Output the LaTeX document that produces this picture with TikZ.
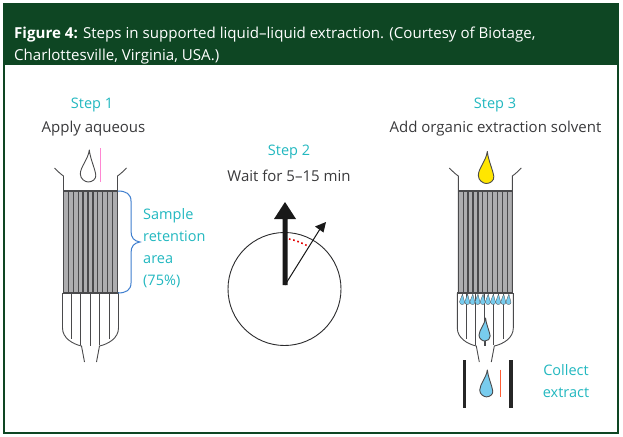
\documentclass[tikz,border=0pt]{standalone}
\usepackage{fontspec}
\setmainfont{Open Sans}
\definecolor{hdr}{HTML}{0E4623}
\definecolor{teal2}{HTML}{22B8C0}
\definecolor{txt}{HTML}{3A3A3C}
\definecolor{gr}{HTML}{ADADAF}
\definecolor{ln}{HTML}{4A4A4C}
\definecolor{dropb}{HTML}{78CCEE}
\definecolor{bracec}{HTML}{3F7FCF}
\definecolor{dropy}{HTML}{FFE600}
\tikzset{
 steplab/.style={text=teal2,font=\fontsize{14.5}{17}\selectfont,inner sep=0pt},
 blk/.style={text=txt,font=\fontsize{15}{17}\selectfont,inner sep=0pt},
 titlelab/.style={anchor=base west,text=white,inner sep=0pt,font=\fontsize{15.1}{18}\selectfont},
 wall/.style={draw=ln,line width=0.9pt},
 fin/.style={draw=ln,line width=0.9pt},
 drop/.style={draw=ln,line width=0.9pt,line join=round},
}
% tip x, tip y, scale, fill, line width
\newcommand{\dropshape}[5]{%
 \begin{scope}[shift={(#1,#2)},scale=#3]
 \path[drop,line width=#5,fill=#4] (0,0) .. controls (-1,9) and (-9,17) .. (-9,24)
   .. controls (-9,29) and (-4,32) .. (-1,32)
   .. controls (3,32) and (7,29) .. (6.5,25)
   .. controls (5.5,18) and (1,9) .. (0,0) -- cycle;
 \end{scope}}
\newcommand{\cartridge}[1]{% x left
 \begin{scope}[shift={(#1,0)}]
 \fill[gr] (0,191) rectangle (54,293);
 \foreach \i in {1,...,10} \draw[ln,line width=1.3pt] (\i*4.9,191) -- (\i*4.9,293);
 \draw[wall] (-9,168) .. controls (-6,171) and (-3,174) .. (0,176) -- (0,293);
 \draw[wall] (63,168) .. controls (60,171) and (57,174) .. (54,176) -- (54,293);
 \draw[wall,line width=1.1pt] (0,191) -- (54,191);
 \draw[wall,line width=1.1pt] (-1,293) -- (55,293);
 \draw[wall] (-1,293) -- (-1,328) .. controls (-1,338) and (9,344) .. (18,346) -- (21,362);
 \draw[wall] (55,293) -- (55,328) .. controls (55,338) and (45,344) .. (36,346) -- (33,362);
 \foreach \a/\b in {8.2/339,17.2/345,26.5/346,35.5/345,45.5/339} \draw[fin] (\a,293) -- (\a,\b);
 \end{scope}}
\begin{document}
\begin{tikzpicture}[x=1pt,y=-1pt]
\useasboundingbox (0,0) rectangle (623,436);
\fill[white] (0,0) rectangle (623,436);
\draw[hdr,line width=1.9pt] (4.3,5) rectangle (618,432.7);
\fill[hdr] (3.3,3) rectangle (619,65);
\node[titlelab] (title1) at (14,38) {\textbf{Figure 4:} Steps in supported liquid–liquid extraction. (Courtesy of Biotage,};
\node[titlelab] (title2) at (14,60) {Charlottesville, Virginia, USA.)};
% step 1
\node[steplab] (s1) at (92,105) {Step 1};
\node[blk] (a1) at (93.5,129) {Apply aqueous};
\cartridge{63.5}
\dropshape{89.3}{150}{1}{white}{0.9pt}
\draw[draw=pink!70!magenta,line width=1.3pt] (100.7,148) -- (100.7,182);
\draw[bracec,line width=1pt] (118,191) .. controls (126,191) and (131,194) .. (131,201) -- (131,231) .. controls (131,238) and (134,241) .. (140,242) .. controls (134,243) and (131,246) .. (131,253) -- (131,283) .. controls (131,290) and (126,293) .. (118,293);
\node[steplab,anchor=base west] (r1) at (143,219) {Sample};
\node[steplab,anchor=base west] (r2) at (143,241) {retention};
\node[steplab,anchor=base west] (r3) at (143,263) {area};
\node[steplab,anchor=base west] (r4) at (143,285) {(75\%)};
% step 2
\node[steplab] (s2) at (289,152) {Step 2};
\node[blk] (a2) at (289,176) {Wait for 5–15 min};
\draw[ln!60!black,line width=0.9pt] (284.5,289) circle (56.5);
\fill[black!90] (282.5,285) -- (282.5,219) -- (274,219) -- (285,202) -- (296,219) -- (287.5,219) -- (287.5,285) -- cycle;
\draw[black!90,line width=1pt] (285,285) -- (320,229);
\fill[black!90] (326,222) -- (323.5,232.5) -- (315,226.5) -- cycle;
\draw[red!90!black,line width=1.6pt,dash pattern=on 1.6pt off 2.7pt] (289,239) .. controls (295,240) and (302,243) .. (308,246);
% step 3
\node[steplab] (s3) at (495,105) {Step 3};
\node[blk] (a3) at (495.5,129) {Add organic extraction solvent};
\cartridge{458.3}
\dropshape{487.3}{151.5}{1}{dropy}{0.9pt}
\foreach \i in {0,...,9} {\dropshape{462.5+\i*5.15}{294}{0.33}{dropb}{0.3pt}}
\dropshape{485.5}{318}{0.72}{dropb}{0.9pt}
\draw[fin] (485,341) -- (485,346);
\node[steplab] (c1) at (566,370.5) {Collect};
\node[steplab] (c2) at (566,392.5) {extract};
\draw[black!85,line width=3.6pt] (464.3,360) -- (464.3,408);
\draw[black!85,line width=3.6pt] (511,360) -- (511,408);
\dropshape{487.3}{370}{0.84}{dropb}{0.9pt}
\draw[red!60!orange!80!white,line width=1.1pt] (500.7,369.5) -- (500.7,397);
\end{tikzpicture}
\end{document}
